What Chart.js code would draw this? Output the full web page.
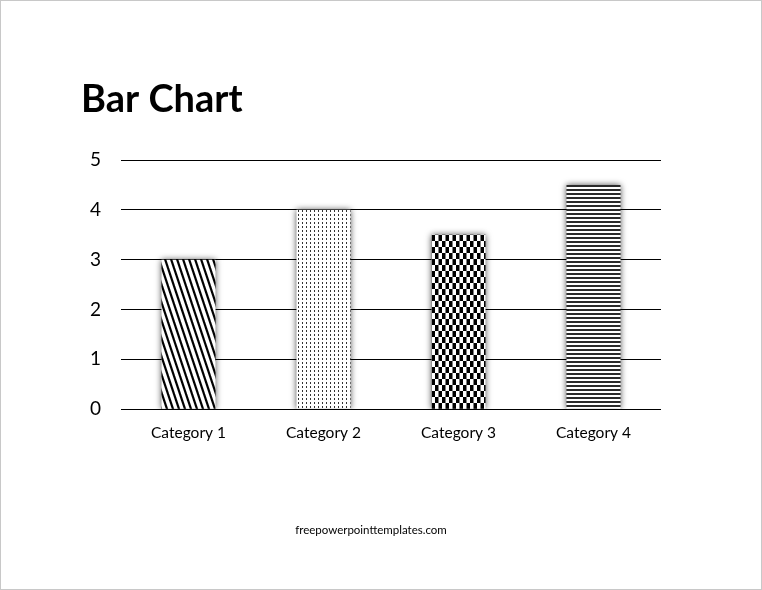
<!DOCTYPE html>
<html>
<head>
<meta charset="utf-8">
<script src="https://cdn.jsdelivr.net/npm/chart.js@4"></script>
<style>
  html, body { margin: 0; padding: 0; background: #fff; }
  #wrap { width: 760px; height: 588px; border: 1px solid #c8c8c8; }
</style>
</head>
<body>
<div id="wrap"><canvas id="barChart" width="760" height="588"></canvas></div>
<script>
const categories = ["Category 1", "Category 2", "Category 3", "Category 4"];
const values = [3, 4, 3.5, 4.5];
const yTicks = [0, 1, 2, 3, 4, 5];

// small tiles used as fill patterns
function makePattern(w, h, draw) {
  const c = document.createElement('canvas');
  c.width = w;
  c.height = h;
  const g = c.getContext('2d');
  g.fillStyle = '#fff';
  g.fillRect(0, 0, w, h);
  draw(g);
  return g.createPattern(c, 'repeat');
}

const ctx = document.getElementById('barChart').getContext('2d');

// diagonal stripes
const diag = makePattern(6, 18, g => {
  g.strokeStyle = '#000';
  g.lineWidth = 2.2;
  for (let k = -1; k <= 1; k++) {
    g.beginPath();
    g.moveTo(k * 6 - 0.5, -1.5);
    g.lineTo(k * 6 + 6.5, 19.5);
    g.stroke();
  }
});
// small dashes
const dots = makePattern(4, 4, g => {
  g.fillStyle = '#333';
  g.fillRect(1, 1, 1, 2);
});
// checker
const checker = makePattern(7, 12, g => {
  g.fillStyle = '#000';
  g.fillRect(0, 0, 3.5, 6);
  g.fillRect(3.5, 6, 3.5, 6);
});
// horizontal lines
const hlines = makePattern(4, 4, g => {
  g.fillStyle = '#2a2a2a';
  g.fillRect(0, 0, 4, 2);
});

const shadowPlugin = {
  id: 'barShadow',
  beforeDatasetsDraw(chart) {
    const c = chart.ctx;
    c.save();
    c.shadowColor = 'rgba(0,0,0,0.7)';
    c.shadowBlur = 6;
    c.shadowOffsetX = 0;
    c.shadowOffsetY = 0;
  },
  afterDatasetsDraw(chart) {
    chart.ctx.restore();
  }
};

new Chart(ctx, {
  type: 'bar',
  data: {
    labels: categories,
    datasets: [{
      data: values,
      backgroundColor: [diag, dots, checker, hlines],
      borderWidth: 0,
      barPercentage: 0.8,
      categoryPercentage: 0.5
    }]
  },
  plugins: [shadowPlugin],
  options: {
    responsive: false,
    animation: false,
    layout: { padding: { left: 80, right: 100, top: 76, bottom: 52 } },
    plugins: {
      legend: { display: false },
      tooltip: { enabled: false },
      title: {
        display: true,
        text: 'Bar Chart',
        align: 'start',
        color: '#000',
        font: { family: 'Lato', size: 38, weight: 'bold', lineHeight: 1.2 },
        padding: { top: 0, bottom: 37.4 }
      },
      subtitle: {
        display: true,
        position: 'bottom',
        text: 'freepowerpointtemplates.com',
        color: '#000',
        font: { family: 'Lato', size: 11.5, lineHeight: 1.2 },
        padding: 0
      }
    },
    scales: {
      x: {
        grid: { display: false },
        border: { display: false },
        ticks: { color: '#000', padding: 6, font: { family: 'Lato', size: 15.5 } },
        afterFit(scale) { scale.height = 114; }
      },
      y: {
        min: 0,
        max: 5,
        afterBuildTicks(scale) { scale.ticks = yTicks.map(v => ({ value: v })); },
        grid: { color: '#000', lineWidth: 1, drawTicks: false },
        border: { display: false },
        ticks: { color: '#000', padding: 20, font: { family: 'Lato', size: 19 } },
        afterFit(scale) { scale.width = 40; }
      }
    }
  }
});
</script>
</body>
</html>
